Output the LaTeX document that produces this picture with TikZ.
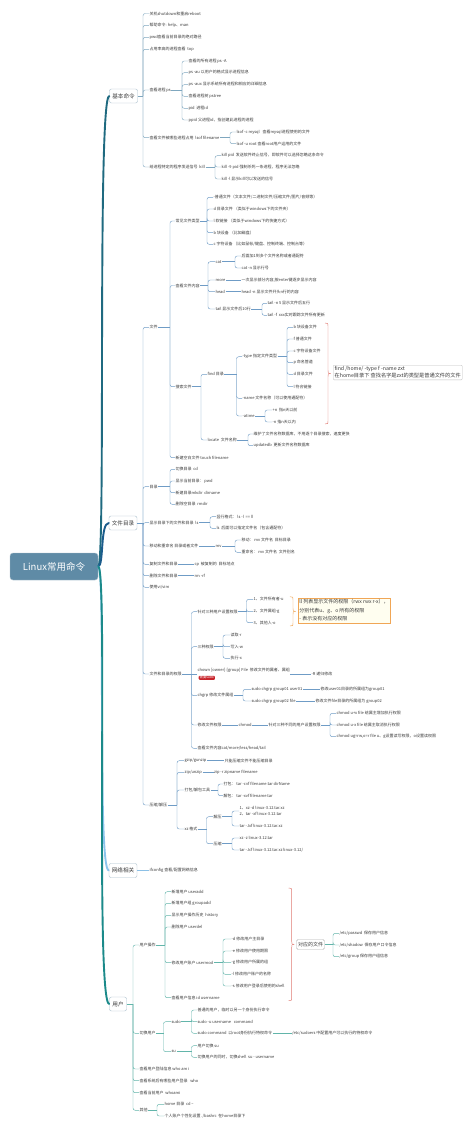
\documentclass[tikz,border=0pt]{standalone}
\usepackage{fontspec}
\setmainfont{Noto Sans CJK SC}
\definecolor{txt}{HTML}{3A3A3A}
\definecolor{colB}{HTML}{7FA7BF}
\definecolor{colF}{HTML}{6F9CC6}
\definecolor{colN}{HTML}{8CC0E6}
\definecolor{colU}{HTML}{62B5AA}
\definecolor{rootB}{HTML}{1F6A80}
\definecolor{rootF}{HTML}{1B5C8C}
\definecolor{rootN}{HTML}{8CC4EC}
\definecolor{rootU}{HTML}{1B8A8A}
\definecolor{lbox}{HTML}{A9BFCC}
\definecolor{sumred}{HTML}{E07A72}
\definecolor{sumor}{HTML}{F0A656}
\definecolor{tagred}{HTML}{C8242B}
\definecolor{rootfill}{HTML}{5F8BA6}
\tikzset{
 t/.style={anchor=west,inner sep=0.4pt,font=\fontsize{4}{4.9}\selectfont,text=txt},
 lone/.style={draw=lbox,fill=white,rounded corners=2pt,font=\fontsize{5.6}{6}\selectfont,text=txt,minimum height=14pt,inner xsep=2pt,inner ysep=0pt},
 rootbox/.style={draw=lbox,fill=rootfill,rounded corners=3pt,font=\fontsize{9.5}{10}\selectfont,text=white,minimum width=88pt,minimum height=27pt,inner sep=0pt},
 cB/.style={draw=colB,line width=0.45pt},
 cF/.style={draw=colF,line width=0.45pt},
 cN/.style={draw=colN,line width=0.45pt},
 cU/.style={draw=colU,line width=0.45pt},
 rc/.style={rounded corners=2.2pt},
 thick1/.style={line width=1.9pt,line cap=round},
 tagn/.style={anchor=west,fill=tagred,text=white,rounded corners=1pt,font=\fontsize{3.3}{4}\selectfont,inner xsep=1pt,inner ysep=0.6pt},
 callout/.style={anchor=north west,align=left,draw=black!25,fill=white,rounded corners=1pt,font=\fontsize{5.2}{7}\selectfont,text=txt,inner sep=1.5pt},
 notebox/.style={anchor=north west,align=left,draw=sumor,fill=yellow!6,font=\fontsize{5}{8.6}\selectfont,text=txt,inner sep=1.5pt},
 fbox/.style={draw=black!30,fill=white,rounded corners=1.5pt,font=\fontsize{5}{6}\selectfont,text=txt,inner xsep=1.5pt,minimum height=10pt,inner ysep=0pt},
}
\newcommand\kidsof[3]{\foreach \kk in {#3}{\draw[#1,rc] (#2) |- (\kk.west);}}
\newcommand\summ[4]{%
 \draw[#1] ({#2-3},#3) .. controls (#2,#3) .. ({#2},{#3+4}) -- ({#2},{(#3+#4)/2-3}) .. controls ({#2},{(#3+#4)/2}) .. ({#2+2.5},{(#3+#4)/2});
 \draw[#1] ({#2-3},#4) .. controls (#2,#4) .. ({#2},{#4-4}) -- ({#2},{(#3+#4)/2+3}) .. controls ({#2},{(#3+#4)/2}) .. ({#2+2.5},{(#3+#4)/2});}
\begin{document}
\begin{tikzpicture}[x=1pt,y=-1pt]
\useasboundingbox (0,0) rectangle (474,1130);
\fill[white] (0,0) rectangle (474,1130);

% ---------------- root and main branches
\node[rootbox] (root) at (54,566.5) {Linux常用命令};
\node[lone,minimum width=28pt] (B) at (123.5,96) {基本命令};
\node[lone,minimum width=28pt] (F) at (123,523) {文件目录};
\node[lone,minimum width=28pt] (N) at (123,870.5) {网络相关};
\node[lone,minimum width=17pt] (U) at (118,1004) {用户};
\draw[thick1,draw=rootB] (root.east) .. controls (106,566) and (97,96) .. (B.west);
\draw[thick1,draw=rootF] (root.east) .. controls (104,566) and (100,523) .. (F.west);
\draw[thick1,draw=rootN] (root.east) .. controls (106,567) and (97,870.5) .. (N.west);
\draw[thick1,draw=rootU] (root.east) .. controls (108,567) and (95,1004) .. (U.west);

% ---------------- 基本命令
\node[t] (b1) at (149,13.5) {关机shutdown和重启reboot};
\node[t] (b2) at (149,25.3) {帮助命令: help、man};
\node[t] (b3) at (149,37.3) {pwd查看当前目录的绝对路径};
\node[t] (b4) at (149,49.3) {占用率高的进程查看~ top};
\node[t] (b5) at (149,90) {查看进程 ps};
\node[t] (b6) at (149,137.7) {查看文件被哪些进程占用~ lsof filename};
\node[t] (b7) at (149,167) {给进程特定的程序发送信号~ kill};
\coordinate (jB) at (143,96);
\draw[cB] (B.east) -- (jB);
\kidsof{cB}{jB}{b1,b2,b3,b4,b5,b6,b7}

\node[t] (b51) at (188,61) {查看的所有进程 ps -A};
\node[t] (b52) at (188,72.7) {ps -au 以用户的格式显示进程信息};
\node[t] (b53) at (188,84.7) {ps -aux 显示系统所有进程和相应的详细信息};
\node[t] (b54) at (188,96.3) {查看进程树 pstree};
\node[t] (b55) at (188,108.3) {pid~ 进程id};
\node[t] (b56) at (188,120) {ppid 父进程id，指创建此进程的进程};
\coordinate (jb5) at (182,90);
\draw[cB] (b5.east) -- (jb5);
\kidsof{cB}{jb5}{b51,b52,b53,b54,b55,b56}

\node[t] (b61) at (236,132) {lsof -c mysql~~ 查看mysql进程使用的文件};
\node[t] (b62) at (236,143.7) {lsof -u root 查看root用户运用的文件};
\coordinate (jb6) at (230,137.7);
\draw[cB] (b6.east) -- (jb6);
\kidsof{cB}{jb6}{b61,b62}

\node[t] (b71) at (221,155.7) {kill pid~ 发送软件终止信号，即软件可以选择忽略这条命令};
\node[t] (b72) at (221,167) {kill -9 pid 强制杀死一条进程，程序无法忽略};
\node[t] (b73) at (221,179) {kill -l 显示kill可以发送的信号};
\coordinate (jb7) at (215,167);
\draw[cB] (b7.east) -- (jb7);
\kidsof{cB}{jb7}{b71,b72,b73}

% ---------------- 文件目录
\node[t] (f1) at (149,327.3) {文件};
\node[t] (f2) at (149,486.7) {目录};
\node[t] (f3) at (149,522.7) {显示目录下的文件和目录~ ls};
\node[t] (f4) at (149,546) {移动和重命名 目录或者文件};
\node[t] (f5) at (149,564.3) {复制文件和目录};
\node[t] (f6) at (149,575.7) {删除文件和目录};
\node[t] (f7) at (149,587.3) {使用vi/vim};
\node[t] (f8) at (149,674) {文件和目录的权限};
\node[t] (f9) at (149,805) {压缩/解压};
\coordinate (jF) at (143,523);
\draw[cF] (F.east) -- (jF);
\kidsof{cF}{jF}{f1,f2,f3,f4,f5,f6,f7,f8,f9}

% 文件
\node[t] (f11) at (175,221) {常见文件类型};
\node[t] (f12) at (175,285.5) {查看文件内容};
\node[t] (f13) at (175,386.7) {搜索文件};
\node[t] (f14) at (175,457.7) {新建空白文件 touch filename};
\coordinate (jf1) at (170,327.3);
\draw[cF] (f1.east) -- (jf1);
\kidsof{cF}{jf1}{f11,f12,f13,f14}

\node[t] (f111) at (213,197.3) {-普通文件（文本文件/二进制文件/压缩文件/图片/音频等）};
\node[t] (f112) at (213,209) {d 目录文件 （类似于windows下的文件夹）};
\node[t] (f113) at (213,221) {l 软链接 （类似于windows下的快捷方式）};
\node[t] (f114) at (213,232.7) {b 块设备 （比如磁盘）};
\node[t] (f115) at (213,244.3) {c 字符设备 （比如鼠标/键盘、控制终端、控制台等）};
\coordinate (jf11) at (207,221);
\draw[cF] (f11.east) -- (jf11);
\kidsof{cF}{jf11}{f111,f112,f113,f114,f115}

\node[t] (f121) at (215,261.7) {cat};
\node[t] (f122) at (215,280) {more};
\node[t] (f123) at (215,291.7) {head};
\node[t] (f124) at (215,309) {tail 显示文件后10行};
\coordinate (jf12) at (208,285.5);
\draw[cF] (f12.east) -- (jf12);
\kidsof{cF}{jf12}{f121,f122,f123,f124}

\node[t] (f1211) at (241,256) {后面加1到多个文件名称或者通配符};
\node[t] (f1212) at (241,268) {cat -n 显示行号};
\coordinate (jf121) at (235,261.7);
\draw[cF] (f121.east) -- (jf121);
\kidsof{cF}{jf121}{f1211,f1212}
\node[t] (f1221) at (241,280) {一次显示部分内容,按enter键逐步显示内容};
\draw[cF] (f122.east) -- (f1221.west);
\node[t] (f1231) at (241,291.7) {head -n 显示文件开头n行的内容};
\draw[cF] (f123.east) -- (f1231.west);
\node[t] (f1241) at (267,303.3) {tail -n 5 显示文件后五行};
\node[t] (f1242) at (267,315.3) {tail -f~ xxx实时跟踪文件所有更新};
\coordinate (jf124) at (262,309);
\draw[cF] (f124.east) -- (jf124);
\kidsof{cF}{jf124}{f1241,f1242}

\node[t] (f131) at (207,374.3) {find 目录};
\node[t] (f132) at (207,440) {locate~ 文件名称};
\coordinate (jf13) at (201,386.7);
\draw[cF] (f13.east) -- (jf13);
\kidsof{cF}{jf13}{f131,f132}

\node[t] (f1311) at (242,356.7) {-type 指定文件类型};
\node[t] (f1312) at (242,398.3) {-name 文件名称（可以使用通配符）};
\node[t] (f1313) at (242,416) {-atime};
\coordinate (jf131) at (236.5,374.3);
\draw[cF] (f131.east) -- (jf131);
\kidsof{cF}{jf131}{f1311,f1312,f1313}

\node[t] (g1) at (293,327.3) {b 块设备文件};
\node[t] (g2) at (293,339) {f 普通文件};
\node[t] (g3) at (293,351) {c 字符设备文件};
\node[t] (g4) at (293,362.7) {p 命名管道};
\node[t] (g5) at (293,374.3) {d 目录文件};
\node[t] (g6) at (293,386.7) {l 符合链接};
\coordinate (jf1311) at (287,356.7);
\draw[cF] (f1311.east) -- (jf1311);
\kidsof{cF}{jf1311}{g1,g2,g3,g4,g5,g6}

\node[t] (h1) at (272,410) {+n~ 指n天以前};
\node[t] (h2) at (272,422) {-n 指n天以内};
\coordinate (jf1313) at (265,416);
\draw[cF] (f1313.east) -- (jf1313);
\kidsof{cF}{jf1313}{h1,h2}

\node[t] (f1321) at (253,434) {维护了文件名称数据库，不用逐个目录搜索，速度更快};
\node[t] (f1322) at (253,445.7) {updatedb~ 更新文件名称数据库};
\coordinate (jf132) at (248,440);
\draw[cF] (f132.east) -- (jf132);
\kidsof{cF}{jf132}{f1321,f1322}

\summ{sumred,line width=0.45pt}{328}{323}{424}
\node[callout] (fcall) at (333,365) {find /home/ -type f -name zxt\\在home目录下 查找名字是zxt的类型是普通文件的文件};

% 目录
\node[t] (f21) at (175,469.3) {切换目录~ cd};
\node[t] (f22) at (175,481) {显示当前目录： pwd};
\node[t] (f23) at (175,492.7) {新建目录mkdir~ dirname};
\node[t] (f24) at (175,504.3) {删除空目录~ rmdir};
\coordinate (jf2) at (170,486.7);
\draw[cF] (f2.east) -- (jf2);
\kidsof{cF}{jf2}{f21,f22,f23,f24}

\node[t] (f31) at (216,516.7) {竖行格式： ls -l~ == ll};
\node[t] (f32) at (216,528.3) {ls~ 后面可以指定文件名（包含通配符）};
\coordinate (jf3) at (210,522.7);
\draw[cF] (f3.east) -- (jf3);
\kidsof{cF}{jf3}{f31,f32}

\node[t] (f41) at (215,546) {mv};
\draw[cF] (f4.east) -- (f41.west);
\node[t] (f411) at (241,540) {移动： mv 文件名~ 目标目录};
\node[t] (f412) at (241,552.3) {重命名： mv 文件名~ 文件别名};
\coordinate (jf41) at (235,546);
\draw[cF] (f41.east) -- (jf41);
\kidsof{cF}{jf41}{f411,f412}

\node[t] (f51) at (194,564.3) {cp~ 被复制的~ 目标地点};
\draw[cF] (f5.east) -- (f51.west);
\node[t] (f61) at (194,575.7) {rm -rf};
\draw[cF] (f6.east) -- (f61.west);

% 权限
\node[t] (f81) at (197,611.7) {针对三种用户设置权限};
\node[t] (f82) at (197,646.7) {三种权限};
\node[t] (f83) at (197,670) {chown [owner]:[group] File~ 修改文件的属者、属组};
\node[tagn] (tag) at (198.5,677.8) {需要sudo};
\coordinate (c83) at (197,674);
\node[t] (f84) at (197,695.7) {chgrp 修改文件属组};
\node[t] (f85) at (197,725) {修改文件权限};
\node[t] (f86) at (197,748.3) {查看文件内容cat/more/less/head/tail};
\coordinate (jf8) at (191.5,674);
\draw[cF] (f8.east) -- (jf8);
\kidsof{cF}{jf8}{f81,f82,f84,f85,f86}
\draw[cF] (jf8) -- (c83);

\node[t] (f811) at (253,599.3) {1、文件所有者-u};
\node[t] (f812) at (253,611.7) {2、文件属组-g};
\node[t] (f813) at (253,622.7) {3、其他人-o};
\coordinate (jf81) at (246.5,611.7);
\draw[cF] (f81.east) -- (jf81);
\kidsof{cF}{jf81}{f811,f812,f813}
\summ{sumor,line width=0.45pt}{293}{596.7}{626}
\node[notebox] (note) at (297.7,597.7) {ll 列表显示文件的权限（rwx rwx r-x），\\分别代表u、g、o 所有的权限\\- 表示没有对应的权限};

\node[t] (f821) at (230,635) {读取-r};
\node[t] (f822) at (230,646.7) {写入-w};
\node[t] (f823) at (230,658.3) {执行-x};
\coordinate (jf82) at (223,646.7);
\draw[cF] (f82.east) -- (jf82);
\kidsof{cF}{jf82}{f821,f822,f823}

\node[t] (f831) at (311,674) {-R 递归修改};
\draw[cF] (f83.east |- f831.west) -- (f831.west);

\node[t] (f841) at (251,689.3) {sudo chgrp group01 user01};
\node[t] (f842) at (251,701) {sudo chgrp group02 file};
\coordinate (jf84) at (243,695.7);
\draw[cF] (f84.east) -- (jf84);
\kidsof{cF}{jf84}{f841,f842}
\node[t] (f8411) at (320,689.3) {修改user01目录的所属组为group01};
\draw[cF] (f841.east) -- (f8411.west);
\node[t] (f8421) at (315,701) {修改文件file目录的所属组为 group02};
\draw[cF] (f842.east) -- (f8421.west);

\node[t] (f851) at (238,725) {chmod};
\draw[cF] (f85.east) -- (f851.west);
\node[t] (f852) at (268,725) {针对三种不同的用户设置权限};
\draw[cF] (f851.east) -- (f852.west);
\node[t] (k1) at (336,713.3) {chmod u+x file 给属主增加执行权限};
\node[t] (k2) at (336,725) {chmod u-x file 给属主取消执行权限};
\node[t] (k3) at (336,736.7) {chmod ug=rw,o=r file u、g设置读写权限，o设置读权限};
\coordinate (jf852) at (330,725);
\draw[cF] (f852.east) -- (jf852);
\kidsof{cF}{jf852}{k1,k2,k3}

% 压缩/解压
\node[t] (f91) at (184,760.7) {gzip/gunzip};
\node[t] (f92) at (184,772.3) {zip/unzip};
\node[t] (f93) at (184,790) {打包/解包工具};
\node[t] (f94) at (184,829) {xz 格式};
\coordinate (jf9) at (177,805);
\draw[cF] (f9.east) -- (jf9);
\kidsof{cF}{jf9}{f91,f92,f93,f94}
\node[t] (f911) at (224,760.7) {只能压缩文件不能压缩目录};
\draw[cF] (f91.east) -- (f911.west);
\node[t] (f921) at (213.5,772.3) {zip -r zipname filename};
\draw[cF] (f92.east) -- (f921.west);
\node[t] (f931) at (223,784) {打包： tar -cvf filename.tar dirName};
\node[t] (f932) at (223,795.7) {解包： tar -xvf filename.tar};
\coordinate (jf93) at (218,790);
\draw[cF] (f93.east) -- (jf93);
\kidsof{cF}{jf93}{f931,f932}
\node[t] (x1) at (213,816.7) {解压};
\node[t] (x2) at (213,843.7) {压缩};
\coordinate (jf94) at (206.5,829);
\draw[cF] (f94.east) -- (jf94);
\kidsof{cF}{jf94}{x1,x2}
\node[t,align=left,font=\fontsize{4}{6.3}\selectfont] (x11) at (239,811) {1、xz -d linux-3.12.tar.xz\\2、tar -xf linux-3.12.tar};
\node[t] (x12) at (239,826) {tar -Jxf linux-3.12.tar.xz};
\coordinate (jx1) at (232,816.7);
\draw[cF] (x1.east) -- (jx1);
\kidsof{cF}{jx1}{x11,x12}
\node[t] (x21) at (239,838) {xz -z linux-3.12.tar};
\node[t] (x22) at (239,850) {tar -Jcf linux-3.12.tar.xz linux-3.12/};
\coordinate (jx2) at (232,843.7);
\draw[cF] (x2.east) -- (jx2);
\kidsof{cF}{jx2}{x21,x22}

% ---------------- 网络相关
\node[t] (n1) at (149,870.5) {ifconfig 查看/配置网络信息};
\draw[cN] (N.east) -- (n1.west);

% ---------------- 用户
\node[t] (u1) at (139,945) {用户操作};
\node[t] (u2) at (139,1033.3) {切换用户};
\node[t] (u3) at (139,1069) {查看用户登陆信息 who am i};
\node[t] (u4) at (139,1080.7) {查看系统后有哪些用户登录~~ who};
\node[t] (u5) at (139,1092.7) {查看当前用户~ whoami};
\node[t] (u6) at (139,1110.3) {其他};
\coordinate (jU) at (133,1004);
\draw[cU] (U.east) -- (jU);
\kidsof{cU}{jU}{u1,u2,u3,u4,u5,u6}

\node[t] (u11) at (171,891.7) {新增用户 useradd};
\node[t] (u12) at (171,903.3) {新增用户组 groupadd};
\node[t] (u13) at (171,915.3) {显示用户操作历史~ history};
\node[t] (u14) at (171,927) {删除用户 userdel};
\node[t] (u15) at (171,962.7) {修改用户账户 usermod};
\node[t] (u16) at (171,997.7) {查看用户信息 id username};
\coordinate (ju1) at (165,945);
\draw[cU] (u1.east) -- (ju1);
\kidsof{cU}{ju1}{u11,u12,u13,u14,u15,u16}

\node[t] (m1) at (231,939) {-d 修改用户主目录};
\node[t] (m2) at (231,951) {-e 修改用户使用期限};
\node[t] (m3) at (231,962.7) {-g 修改用户所属的组};
\node[t] (m4) at (231,974.3) {-l 修改用户账户的名称};
\node[t] (m5) at (231,986) {-s 修改用户登录后使用的shell};
\coordinate (ju15) at (223,962.7);
\draw[cU] (u15.east) -- (ju15);
\kidsof{cU}{ju15}{m1,m2,m3,m4,m5}

\summ{sumred,line width=0.45pt}{291.7}{888}{1000.7}
\node[fbox] (uf) at (310.5,944.5) {对应的文件};
\node[t] (uf1) at (339,933.3) {/etc/passwd~ 保存用户信息};
\node[t] (uf2) at (339,945) {/etc/shadow~ 保存用户口令信息};
\node[t] (uf3) at (339,956.7) {/etc/group 保存用户组信息};
\coordinate (juf) at (333,944.5);
\draw[cU] (uf.east) -- (juf);
\kidsof{cU}{juf}{uf1,uf2,uf3}

\node[t] (s1) at (171,1021.7) {sudo};
\node[t] (s2) at (171,1051.7) {su};
\coordinate (ju2) at (163.5,1033.3);
\draw[cU] (u2.east) -- (ju2);
\kidsof{cU}{ju2}{s1,s2}
\node[t] (s11) at (197,1010) {普通的用户，临时以另一个身份执行命令};
\node[t] (s12) at (197,1021.7) {sudo -u username~~ command};
\node[t] (s13) at (197,1033.3) {sudo command~ 以root身份执行特权命令};
\coordinate (js1) at (191.5,1021.7);
\draw[cU] (s1.east) -- (js1);
\kidsof{cU}{js1}{s11,s12,s13}
\node[t] (s131) at (291.5,1033.3) {/etc/sudoers 中配置用户可以执行的特权命令};
\draw[cU] (s13.east) -- (s131.west);
\node[t] (s21) at (197,1045.7) {用户切换 su};
\node[t] (s22) at (197,1057.3) {切换用户的同时，切换shell~ su - username};
\coordinate (js2) at (191.5,1051.7);
\draw[cU] (s2.east) -- (js2);
\kidsof{cU}{js2}{s21,s22}

\node[t] (o1) at (164,1104.3) {home 目录~ cd \textasciitilde};
\node[t] (o2) at (164,1116) {个人账户个性化设置 ./bashrc~ 在home目录下};
\coordinate (ju6) at (157,1110.3);
\draw[cU] (u6.east) -- (ju6);
\kidsof{cU}{ju6}{o1,o2}
\end{tikzpicture}
\end{document}
